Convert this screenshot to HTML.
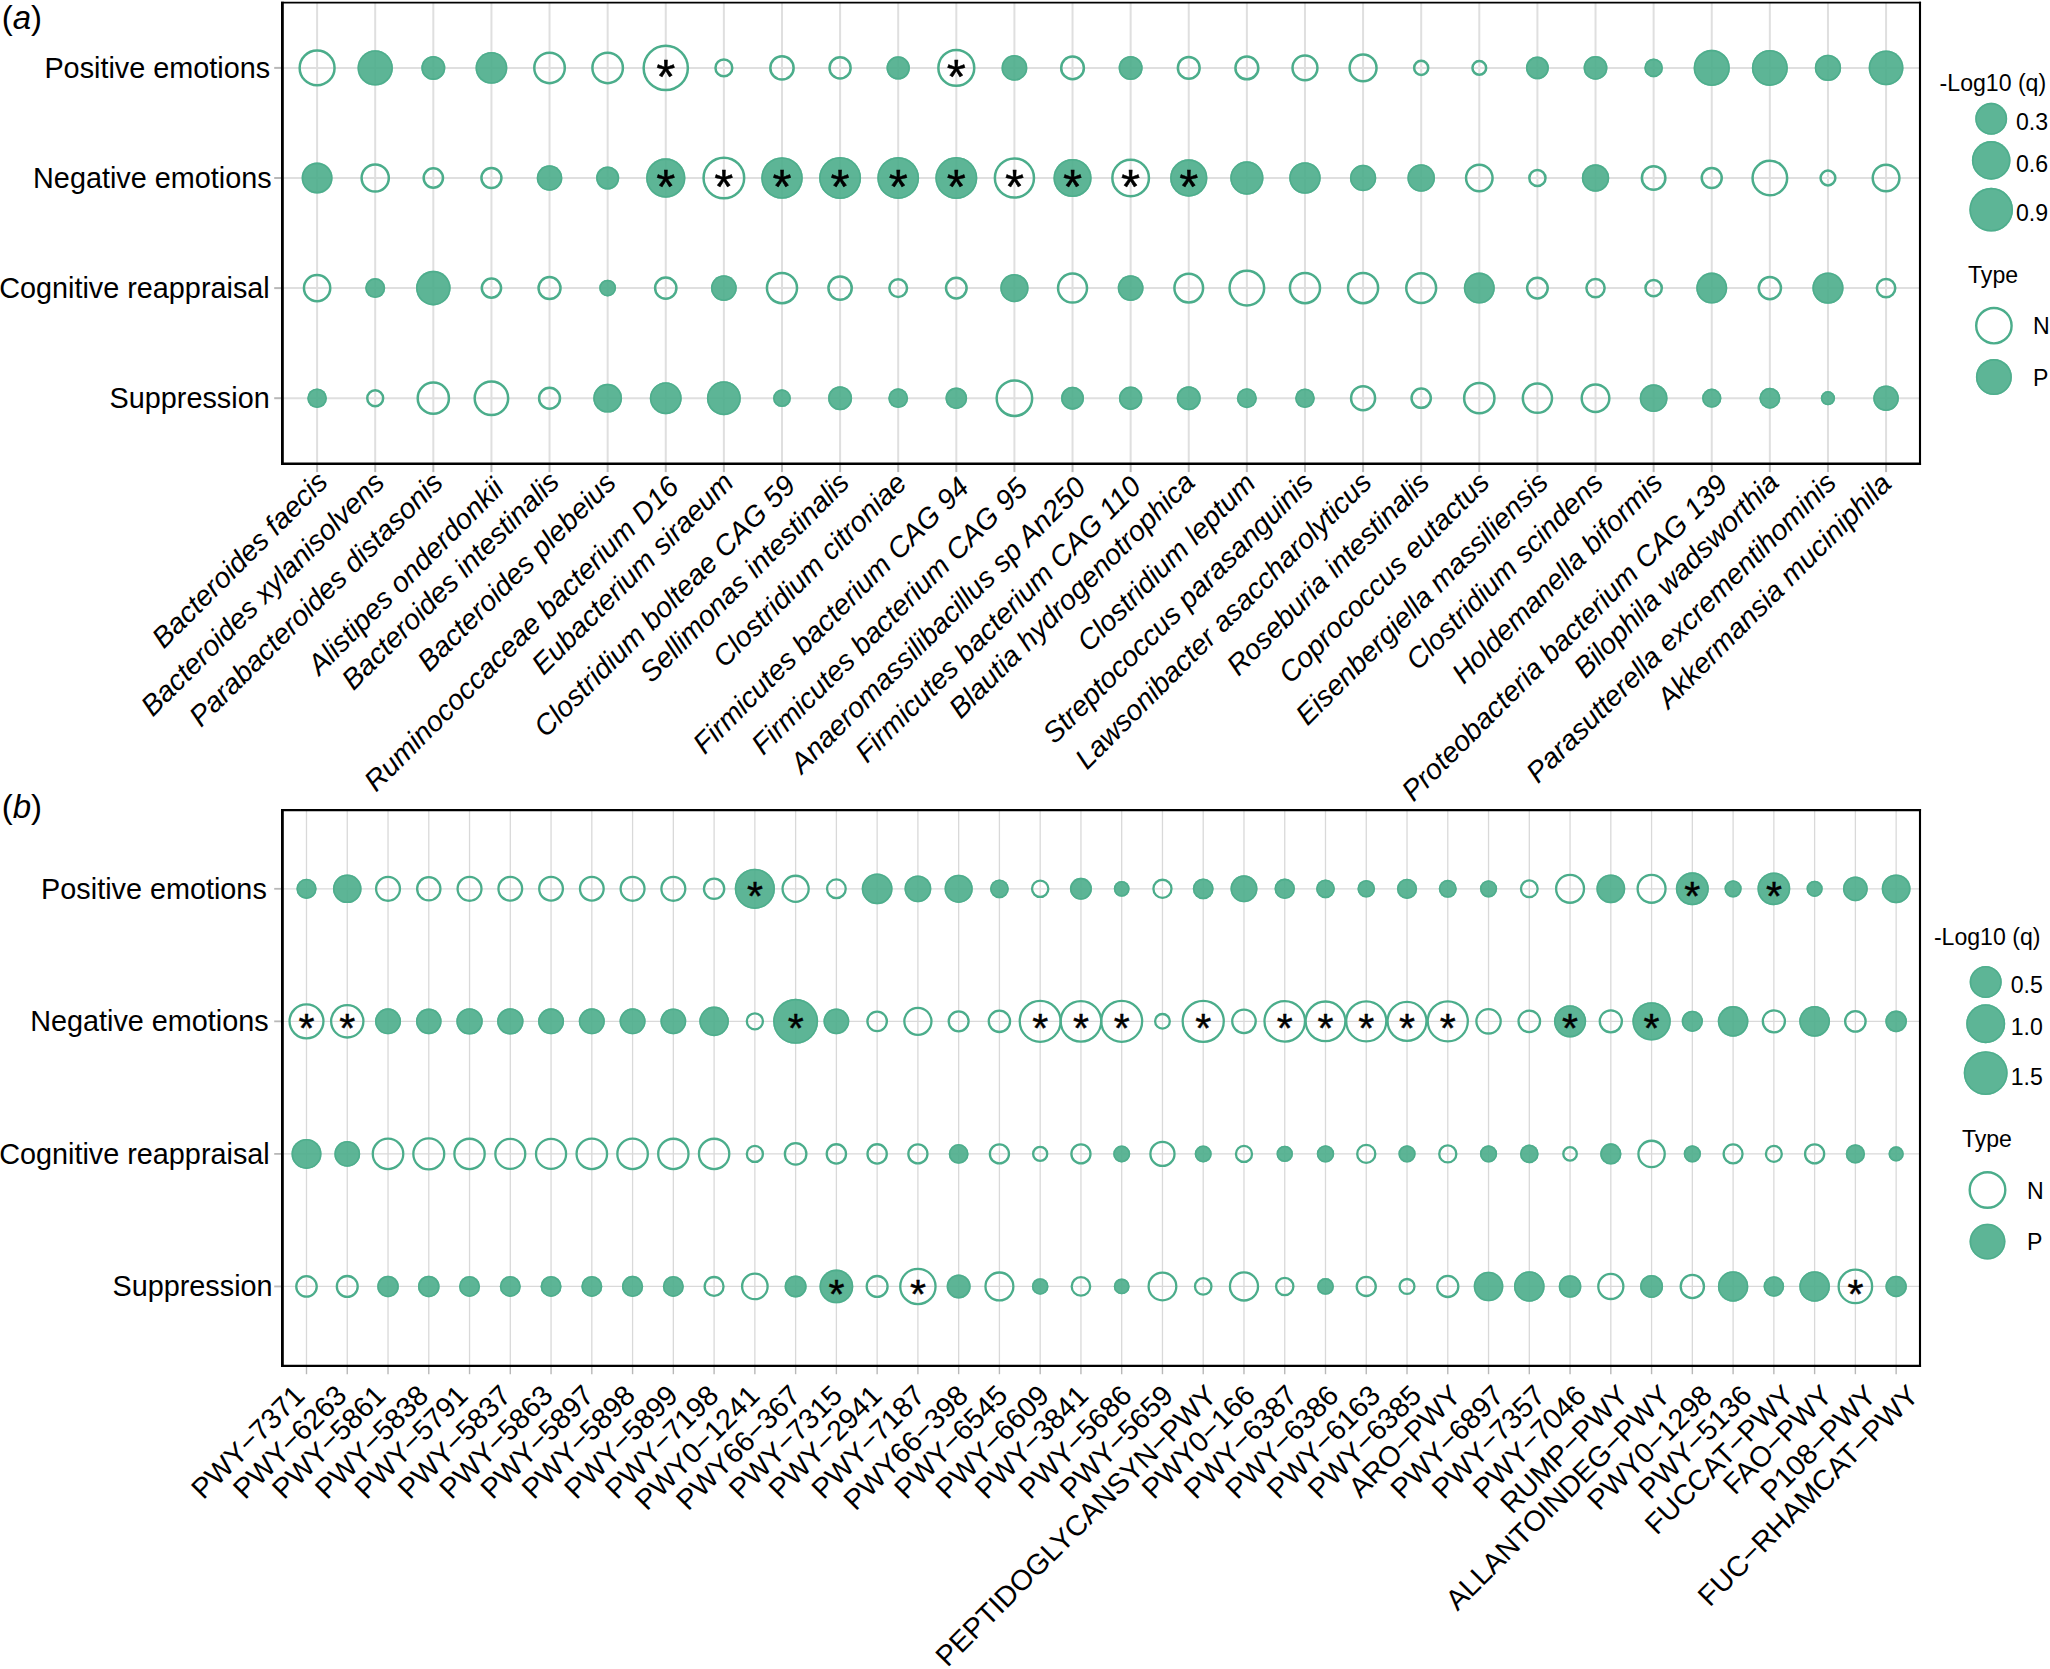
<!DOCTYPE html>
<html lang="en"><head><meta charset="utf-8"><title>Figure</title>
<style>html,body{margin:0;padding:0;background:#fff}svg{display:block}</style></head><body>
<svg width="2050" height="1669" viewBox="0 0 2050 1669">
<rect width="2050" height="1669" fill="#fff"/>
<g stroke="#dfdfdf" stroke-width="2" fill="none">
<line x1="282.4" y1="67.9" x2="1920" y2="67.9"/>
<line x1="282.4" y1="178" x2="1920" y2="178"/>
<line x1="282.4" y1="288.1" x2="1920" y2="288.1"/>
<line x1="282.4" y1="398.2" x2="1920" y2="398.2"/>
<line x1="317.1" y1="2.7" x2="317.1" y2="463.8"/>
<line x1="375.21" y1="2.7" x2="375.21" y2="463.8"/>
<line x1="433.32" y1="2.7" x2="433.32" y2="463.8"/>
<line x1="491.43" y1="2.7" x2="491.43" y2="463.8"/>
<line x1="549.54" y1="2.7" x2="549.54" y2="463.8"/>
<line x1="607.65" y1="2.7" x2="607.65" y2="463.8"/>
<line x1="665.76" y1="2.7" x2="665.76" y2="463.8"/>
<line x1="723.87" y1="2.7" x2="723.87" y2="463.8"/>
<line x1="781.98" y1="2.7" x2="781.98" y2="463.8"/>
<line x1="840.09" y1="2.7" x2="840.09" y2="463.8"/>
<line x1="898.2" y1="2.7" x2="898.2" y2="463.8"/>
<line x1="956.31" y1="2.7" x2="956.31" y2="463.8"/>
<line x1="1014.42" y1="2.7" x2="1014.42" y2="463.8"/>
<line x1="1072.53" y1="2.7" x2="1072.53" y2="463.8"/>
<line x1="1130.64" y1="2.7" x2="1130.64" y2="463.8"/>
<line x1="1188.75" y1="2.7" x2="1188.75" y2="463.8"/>
<line x1="1246.86" y1="2.7" x2="1246.86" y2="463.8"/>
<line x1="1304.97" y1="2.7" x2="1304.97" y2="463.8"/>
<line x1="1363.08" y1="2.7" x2="1363.08" y2="463.8"/>
<line x1="1421.19" y1="2.7" x2="1421.19" y2="463.8"/>
<line x1="1479.3" y1="2.7" x2="1479.3" y2="463.8"/>
<line x1="1537.41" y1="2.7" x2="1537.41" y2="463.8"/>
<line x1="1595.52" y1="2.7" x2="1595.52" y2="463.8"/>
<line x1="1653.63" y1="2.7" x2="1653.63" y2="463.8"/>
<line x1="1711.74" y1="2.7" x2="1711.74" y2="463.8"/>
<line x1="1769.85" y1="2.7" x2="1769.85" y2="463.8"/>
<line x1="1827.96" y1="2.7" x2="1827.96" y2="463.8"/>
<line x1="1886.07" y1="2.7" x2="1886.07" y2="463.8"/>
</g>
<g stroke="#b8b8b8" stroke-width="2" fill="none">
<line x1="274.2" y1="67.9" x2="281.2" y2="67.9"/>
<line x1="274.2" y1="178" x2="281.2" y2="178"/>
<line x1="274.2" y1="288.1" x2="281.2" y2="288.1"/>
<line x1="274.2" y1="398.2" x2="281.2" y2="398.2"/>
</g>
<g stroke="#b8b8b8" stroke-width="2" fill="none">
<line x1="317.1" y1="464.8" x2="317.1" y2="472.1"/>
<line x1="375.21" y1="464.8" x2="375.21" y2="472.1"/>
<line x1="433.32" y1="464.8" x2="433.32" y2="472.1"/>
<line x1="491.43" y1="464.8" x2="491.43" y2="472.1"/>
<line x1="549.54" y1="464.8" x2="549.54" y2="472.1"/>
<line x1="607.65" y1="464.8" x2="607.65" y2="472.1"/>
<line x1="665.76" y1="464.8" x2="665.76" y2="472.1"/>
<line x1="723.87" y1="464.8" x2="723.87" y2="472.1"/>
<line x1="781.98" y1="464.8" x2="781.98" y2="472.1"/>
<line x1="840.09" y1="464.8" x2="840.09" y2="472.1"/>
<line x1="898.2" y1="464.8" x2="898.2" y2="472.1"/>
<line x1="956.31" y1="464.8" x2="956.31" y2="472.1"/>
<line x1="1014.42" y1="464.8" x2="1014.42" y2="472.1"/>
<line x1="1072.53" y1="464.8" x2="1072.53" y2="472.1"/>
<line x1="1130.64" y1="464.8" x2="1130.64" y2="472.1"/>
<line x1="1188.75" y1="464.8" x2="1188.75" y2="472.1"/>
<line x1="1246.86" y1="464.8" x2="1246.86" y2="472.1"/>
<line x1="1304.97" y1="464.8" x2="1304.97" y2="472.1"/>
<line x1="1363.08" y1="464.8" x2="1363.08" y2="472.1"/>
<line x1="1421.19" y1="464.8" x2="1421.19" y2="472.1"/>
<line x1="1479.3" y1="464.8" x2="1479.3" y2="472.1"/>
<line x1="1537.41" y1="464.8" x2="1537.41" y2="472.1"/>
<line x1="1595.52" y1="464.8" x2="1595.52" y2="472.1"/>
<line x1="1653.63" y1="464.8" x2="1653.63" y2="472.1"/>
<line x1="1711.74" y1="464.8" x2="1711.74" y2="472.1"/>
<line x1="1769.85" y1="464.8" x2="1769.85" y2="472.1"/>
<line x1="1827.96" y1="464.8" x2="1827.96" y2="472.1"/>
<line x1="1886.07" y1="464.8" x2="1886.07" y2="472.1"/>
</g>
<g fill="#4bad8b" fill-opacity="0.9" stroke="none">
<circle cx="375.21" cy="67.9" r="17.7"/>
<circle cx="433.32" cy="67.9" r="12"/>
<circle cx="491.43" cy="67.9" r="15.9"/>
<circle cx="898.2" cy="67.9" r="11.7"/>
<circle cx="1014.42" cy="67.9" r="12.9"/>
<circle cx="1130.64" cy="67.9" r="12"/>
<circle cx="1537.41" cy="67.9" r="11.45"/>
<circle cx="1595.52" cy="67.9" r="11.9"/>
<circle cx="1653.63" cy="67.9" r="9.3"/>
<circle cx="1711.74" cy="67.9" r="18.1"/>
<circle cx="1769.85" cy="67.9" r="18"/>
<circle cx="1827.96" cy="67.9" r="13.15"/>
<circle cx="1886.07" cy="67.9" r="17.4"/>
<circle cx="317.1" cy="178" r="15.45"/>
<circle cx="549.54" cy="178" r="12.8"/>
<circle cx="607.65" cy="178" r="11.55"/>
<circle cx="665.76" cy="178" r="19.65"/>
<circle cx="781.98" cy="178" r="20.8"/>
<circle cx="840.09" cy="178" r="21"/>
<circle cx="898.2" cy="178" r="20.9"/>
<circle cx="956.31" cy="178" r="21"/>
<circle cx="1072.53" cy="178" r="19.1"/>
<circle cx="1188.75" cy="178" r="18.65"/>
<circle cx="1246.86" cy="178" r="16.65"/>
<circle cx="1304.97" cy="178" r="15.75"/>
<circle cx="1363.08" cy="178" r="13.15"/>
<circle cx="1421.19" cy="178" r="13.8"/>
<circle cx="1595.52" cy="178" r="13.7"/>
<circle cx="375.21" cy="288.1" r="10"/>
<circle cx="433.32" cy="288.1" r="17.3"/>
<circle cx="607.65" cy="288.1" r="8.45"/>
<circle cx="723.87" cy="288.1" r="12.9"/>
<circle cx="1014.42" cy="288.1" r="14.15"/>
<circle cx="1130.64" cy="288.1" r="12.9"/>
<circle cx="1479.3" cy="288.1" r="15.5"/>
<circle cx="1711.74" cy="288.1" r="15.5"/>
<circle cx="1827.96" cy="288.1" r="15.6"/>
<circle cx="317.1" cy="398.2" r="9.8"/>
<circle cx="607.65" cy="398.2" r="14.4"/>
<circle cx="665.76" cy="398.2" r="15.95"/>
<circle cx="723.87" cy="398.2" r="16.95"/>
<circle cx="781.98" cy="398.2" r="8.9"/>
<circle cx="840.09" cy="398.2" r="12"/>
<circle cx="898.2" cy="398.2" r="9.9"/>
<circle cx="956.31" cy="398.2" r="10.8"/>
<circle cx="1072.53" cy="398.2" r="11.45"/>
<circle cx="1130.64" cy="398.2" r="11.7"/>
<circle cx="1188.75" cy="398.2" r="12"/>
<circle cx="1246.86" cy="398.2" r="10"/>
<circle cx="1304.97" cy="398.2" r="9.8"/>
<circle cx="1653.63" cy="398.2" r="13.9"/>
<circle cx="1711.74" cy="398.2" r="9.65"/>
<circle cx="1769.85" cy="398.2" r="10.45"/>
<circle cx="1827.96" cy="398.2" r="7.1"/>
<circle cx="1886.07" cy="398.2" r="12.8"/>
</g>
<g fill="none" stroke="#4bad8b" stroke-opacity="0.8" stroke-width="1.6">
<circle cx="375.21" cy="67.9" r="16.9"/>
<circle cx="433.32" cy="67.9" r="11.2"/>
<circle cx="491.43" cy="67.9" r="15.1"/>
<circle cx="898.2" cy="67.9" r="10.9"/>
<circle cx="1014.42" cy="67.9" r="12.1"/>
<circle cx="1130.64" cy="67.9" r="11.2"/>
<circle cx="1537.41" cy="67.9" r="10.65"/>
<circle cx="1595.52" cy="67.9" r="11.1"/>
<circle cx="1653.63" cy="67.9" r="8.5"/>
<circle cx="1711.74" cy="67.9" r="17.3"/>
<circle cx="1769.85" cy="67.9" r="17.2"/>
<circle cx="1827.96" cy="67.9" r="12.35"/>
<circle cx="1886.07" cy="67.9" r="16.6"/>
<circle cx="317.1" cy="178" r="14.65"/>
<circle cx="549.54" cy="178" r="12"/>
<circle cx="607.65" cy="178" r="10.75"/>
<circle cx="665.76" cy="178" r="18.85"/>
<circle cx="781.98" cy="178" r="20"/>
<circle cx="840.09" cy="178" r="20.2"/>
<circle cx="898.2" cy="178" r="20.1"/>
<circle cx="956.31" cy="178" r="20.2"/>
<circle cx="1072.53" cy="178" r="18.3"/>
<circle cx="1188.75" cy="178" r="17.85"/>
<circle cx="1246.86" cy="178" r="15.85"/>
<circle cx="1304.97" cy="178" r="14.95"/>
<circle cx="1363.08" cy="178" r="12.35"/>
<circle cx="1421.19" cy="178" r="13"/>
<circle cx="1595.52" cy="178" r="12.9"/>
<circle cx="375.21" cy="288.1" r="9.2"/>
<circle cx="433.32" cy="288.1" r="16.5"/>
<circle cx="607.65" cy="288.1" r="7.65"/>
<circle cx="723.87" cy="288.1" r="12.1"/>
<circle cx="1014.42" cy="288.1" r="13.35"/>
<circle cx="1130.64" cy="288.1" r="12.1"/>
<circle cx="1479.3" cy="288.1" r="14.7"/>
<circle cx="1711.74" cy="288.1" r="14.7"/>
<circle cx="1827.96" cy="288.1" r="14.8"/>
<circle cx="317.1" cy="398.2" r="9"/>
<circle cx="607.65" cy="398.2" r="13.6"/>
<circle cx="665.76" cy="398.2" r="15.15"/>
<circle cx="723.87" cy="398.2" r="16.15"/>
<circle cx="781.98" cy="398.2" r="8.1"/>
<circle cx="840.09" cy="398.2" r="11.2"/>
<circle cx="898.2" cy="398.2" r="9.1"/>
<circle cx="956.31" cy="398.2" r="10"/>
<circle cx="1072.53" cy="398.2" r="10.65"/>
<circle cx="1130.64" cy="398.2" r="10.9"/>
<circle cx="1188.75" cy="398.2" r="11.2"/>
<circle cx="1246.86" cy="398.2" r="9.2"/>
<circle cx="1304.97" cy="398.2" r="9"/>
<circle cx="1653.63" cy="398.2" r="13.1"/>
<circle cx="1711.74" cy="398.2" r="8.85"/>
<circle cx="1769.85" cy="398.2" r="9.65"/>
<circle cx="1827.96" cy="398.2" r="6.3"/>
<circle cx="1886.07" cy="398.2" r="12"/>
</g>
<g fill="none" stroke="#4bad8b" stroke-width="2.5">
<circle cx="317.1" cy="67.9" r="17.45"/>
<circle cx="549.54" cy="67.9" r="15.25"/>
<circle cx="607.65" cy="67.9" r="15.25"/>
<circle cx="665.76" cy="67.9" r="22.1"/>
<circle cx="723.87" cy="67.9" r="8.4"/>
<circle cx="781.98" cy="67.9" r="11.65"/>
<circle cx="840.09" cy="67.9" r="10.55"/>
<circle cx="956.31" cy="67.9" r="17.95"/>
<circle cx="1072.53" cy="67.9" r="11.35"/>
<circle cx="1188.75" cy="67.9" r="10.9"/>
<circle cx="1246.86" cy="67.9" r="11.45"/>
<circle cx="1304.97" cy="67.9" r="12.45"/>
<circle cx="1363.08" cy="67.9" r="13.45"/>
<circle cx="1421.19" cy="67.9" r="7.05"/>
<circle cx="1479.3" cy="67.9" r="6.85"/>
<circle cx="375.21" cy="178" r="13.6"/>
<circle cx="433.32" cy="178" r="9.65"/>
<circle cx="491.43" cy="178" r="10"/>
<circle cx="723.87" cy="178" r="20.3"/>
<circle cx="1014.42" cy="178" r="19.55"/>
<circle cx="1130.64" cy="178" r="18.3"/>
<circle cx="1479.3" cy="178" r="13.25"/>
<circle cx="1537.41" cy="178" r="8.1"/>
<circle cx="1653.63" cy="178" r="11.75"/>
<circle cx="1711.74" cy="178" r="10"/>
<circle cx="1769.85" cy="178" r="17.3"/>
<circle cx="1827.96" cy="178" r="7.4"/>
<circle cx="1886.07" cy="178" r="13.35"/>
<circle cx="317.1" cy="288.1" r="13.15"/>
<circle cx="491.43" cy="288.1" r="9.65"/>
<circle cx="549.54" cy="288.1" r="11"/>
<circle cx="665.76" cy="288.1" r="10.65"/>
<circle cx="781.98" cy="288.1" r="15.05"/>
<circle cx="840.09" cy="288.1" r="11.65"/>
<circle cx="898.2" cy="288.1" r="8.85"/>
<circle cx="956.31" cy="288.1" r="10.3"/>
<circle cx="1072.53" cy="288.1" r="14.5"/>
<circle cx="1188.75" cy="288.1" r="14.35"/>
<circle cx="1246.86" cy="288.1" r="17.3"/>
<circle cx="1304.97" cy="288.1" r="15.05"/>
<circle cx="1363.08" cy="288.1" r="15.05"/>
<circle cx="1421.19" cy="288.1" r="14.95"/>
<circle cx="1537.41" cy="288.1" r="10.3"/>
<circle cx="1595.52" cy="288.1" r="9.1"/>
<circle cx="1653.63" cy="288.1" r="8.2"/>
<circle cx="1769.85" cy="288.1" r="11.1"/>
<circle cx="1886.07" cy="288.1" r="9.2"/>
<circle cx="375.21" cy="398.2" r="7.95"/>
<circle cx="433.32" cy="398.2" r="15.6"/>
<circle cx="491.43" cy="398.2" r="16.75"/>
<circle cx="549.54" cy="398.2" r="10.45"/>
<circle cx="1014.42" cy="398.2" r="17.75"/>
<circle cx="1363.08" cy="398.2" r="12"/>
<circle cx="1421.19" cy="398.2" r="9.65"/>
<circle cx="1479.3" cy="398.2" r="15.15"/>
<circle cx="1537.41" cy="398.2" r="14.6"/>
<circle cx="1595.52" cy="398.2" r="13.8"/>
</g>
<g font-family='"Liberation Sans", Arial, Helvetica, sans-serif' font-size="49" text-anchor="middle" fill="#000" stroke="#000" stroke-width="0.45">
<text x="665.76" y="92.7">*</text>
<text x="956.31" y="92.7">*</text>
<text x="665.76" y="202.8">*</text>
<text x="723.87" y="202.8">*</text>
<text x="781.98" y="202.8">*</text>
<text x="840.09" y="202.8">*</text>
<text x="898.2" y="202.8">*</text>
<text x="956.31" y="202.8">*</text>
<text x="1014.42" y="202.8">*</text>
<text x="1072.53" y="202.8">*</text>
<text x="1130.64" y="202.8">*</text>
<text x="1188.75" y="202.8">*</text>
</g>
<g stroke="#000" fill="none">
<line x1="281" y1="2.7" x2="1921.05" y2="2.7" stroke-width="1.7"/>
<line x1="1920" y1="1.85" x2="1920" y2="465.1" stroke-width="2.1"/>
<line x1="282.4" y1="1.85" x2="282.4" y2="465.1" stroke-width="2.8"/>
<line x1="281" y1="463.8" x2="1921.05" y2="463.8" stroke-width="2.6"/>
</g>
<g font-family='"Liberation Sans", Arial, Helvetica, sans-serif' font-size="28.8" text-anchor="end" fill="#000">
<text x="270.1" y="77.7">Positive emotions</text>
<text x="271.6" y="187.8">Negative emotions</text>
<text x="269.7" y="297.9">Cognitive reappraisal</text>
<text x="269.7" y="408">Suppression</text>
</g>
<g font-family='"Liberation Sans", Arial, Helvetica, sans-serif' font-size="28.7" font-style="italic" text-anchor="end" fill="#000">
<text transform="translate(329.5 483.7) rotate(-45)">Bacteroides faecis</text>
<text transform="translate(386.11 484.1) rotate(-45)">Bacteroides xylanisolvens</text>
<text transform="translate(444.62 484.4) rotate(-45)">Parabacteroides distasonis</text>
<text transform="translate(505.53 490.2) rotate(-45)">Alistipes onderdonkii</text>
<text transform="translate(560.94 483.7) rotate(-45)">Bacteroides intestinalis</text>
<text transform="translate(617.65 484.4) rotate(-45)">Bacteroides plebeius</text>
<text transform="translate(680.46 488.4) rotate(-45)">Ruminococcaceae bacterium D16</text>
<text transform="translate(735.17 484.4) rotate(-45)">Eubacterium siraeum</text>
<text transform="translate(797.18 487.1) rotate(-45)">Clostridium bolteae CAG 59</text>
<text transform="translate(850.99 484.4) rotate(-45)">Sellimonas intestinalis</text>
<text transform="translate(908.2 485) rotate(-45)">Clostridium citroniae</text>
<text transform="translate(970.81 489.1) rotate(-45)">Firmicutes bacterium CAG 94</text>
<text transform="translate(1029.32 490) rotate(-45)">Firmicutes bacterium CAG 95</text>
<text transform="translate(1087.63 489) rotate(-45)">Anaeromassilibacillus sp An250</text>
<text transform="translate(1142.74 488.1) rotate(-45)">Firmicutes bacterium CAG 110</text>
<text transform="translate(1196.45 484.1) rotate(-45)">Blautia hydrogenotrophica</text>
<text transform="translate(1257.06 485) rotate(-45)">Clostridium leptum</text>
<text transform="translate(1314.97 484.4) rotate(-45)">Streptococcus parasanguinis</text>
<text transform="translate(1373.28 484.1) rotate(-45)">Lawsonibacter asaccharolyticus</text>
<text transform="translate(1431.19 484.1) rotate(-45)">Roseburia intestinalis</text>
<text transform="translate(1491.1 484.1) rotate(-45)">Coprococcus eutactus</text>
<text transform="translate(1549.91 484.1) rotate(-45)">Eisenbergiella massiliensis</text>
<text transform="translate(1604.82 484.4) rotate(-45)">Clostridium scindens</text>
<text transform="translate(1664.33 484.4) rotate(-45)">Holdemanella biformis</text>
<text transform="translate(1729.24 486.7) rotate(-45)">Proteobacteria bacterium CAG 139</text>
<text transform="translate(1780.55 484.1) rotate(-45)">Bilophila wadsworthia</text>
<text transform="translate(1837.96 484.4) rotate(-45)">Parasutterella excrementihominis</text>
<text transform="translate(1893.07 485.5) rotate(-45)">Akkermansia muciniphila</text>
</g>
<g stroke="#d9d9d9" stroke-width="1.3" fill="none">
<line x1="282.4" y1="888.8" x2="1920" y2="888.8"/>
<line x1="282.4" y1="1021.35" x2="1920" y2="1021.35"/>
<line x1="282.4" y1="1153.9" x2="1920" y2="1153.9"/>
<line x1="282.4" y1="1286.45" x2="1920" y2="1286.45"/>
<line x1="306.5" y1="810.1" x2="306.5" y2="1365.9"/>
<line x1="347.26" y1="810.1" x2="347.26" y2="1365.9"/>
<line x1="388.02" y1="810.1" x2="388.02" y2="1365.9"/>
<line x1="428.78" y1="810.1" x2="428.78" y2="1365.9"/>
<line x1="469.54" y1="810.1" x2="469.54" y2="1365.9"/>
<line x1="510.3" y1="810.1" x2="510.3" y2="1365.9"/>
<line x1="551.06" y1="810.1" x2="551.06" y2="1365.9"/>
<line x1="591.82" y1="810.1" x2="591.82" y2="1365.9"/>
<line x1="632.58" y1="810.1" x2="632.58" y2="1365.9"/>
<line x1="673.34" y1="810.1" x2="673.34" y2="1365.9"/>
<line x1="714.1" y1="810.1" x2="714.1" y2="1365.9"/>
<line x1="754.86" y1="810.1" x2="754.86" y2="1365.9"/>
<line x1="795.62" y1="810.1" x2="795.62" y2="1365.9"/>
<line x1="836.38" y1="810.1" x2="836.38" y2="1365.9"/>
<line x1="877.14" y1="810.1" x2="877.14" y2="1365.9"/>
<line x1="917.9" y1="810.1" x2="917.9" y2="1365.9"/>
<line x1="958.66" y1="810.1" x2="958.66" y2="1365.9"/>
<line x1="999.42" y1="810.1" x2="999.42" y2="1365.9"/>
<line x1="1040.18" y1="810.1" x2="1040.18" y2="1365.9"/>
<line x1="1080.94" y1="810.1" x2="1080.94" y2="1365.9"/>
<line x1="1121.7" y1="810.1" x2="1121.7" y2="1365.9"/>
<line x1="1162.46" y1="810.1" x2="1162.46" y2="1365.9"/>
<line x1="1203.22" y1="810.1" x2="1203.22" y2="1365.9"/>
<line x1="1243.98" y1="810.1" x2="1243.98" y2="1365.9"/>
<line x1="1284.74" y1="810.1" x2="1284.74" y2="1365.9"/>
<line x1="1325.5" y1="810.1" x2="1325.5" y2="1365.9"/>
<line x1="1366.26" y1="810.1" x2="1366.26" y2="1365.9"/>
<line x1="1407.02" y1="810.1" x2="1407.02" y2="1365.9"/>
<line x1="1447.78" y1="810.1" x2="1447.78" y2="1365.9"/>
<line x1="1488.54" y1="810.1" x2="1488.54" y2="1365.9"/>
<line x1="1529.3" y1="810.1" x2="1529.3" y2="1365.9"/>
<line x1="1570.06" y1="810.1" x2="1570.06" y2="1365.9"/>
<line x1="1610.82" y1="810.1" x2="1610.82" y2="1365.9"/>
<line x1="1651.58" y1="810.1" x2="1651.58" y2="1365.9"/>
<line x1="1692.34" y1="810.1" x2="1692.34" y2="1365.9"/>
<line x1="1733.1" y1="810.1" x2="1733.1" y2="1365.9"/>
<line x1="1773.86" y1="810.1" x2="1773.86" y2="1365.9"/>
<line x1="1814.62" y1="810.1" x2="1814.62" y2="1365.9"/>
<line x1="1855.38" y1="810.1" x2="1855.38" y2="1365.9"/>
<line x1="1896.14" y1="810.1" x2="1896.14" y2="1365.9"/>
</g>
<g stroke="#b8b8b8" stroke-width="1.8" fill="none">
<line x1="274.2" y1="888.8" x2="281.2" y2="888.8"/>
<line x1="274.2" y1="1021.35" x2="281.2" y2="1021.35"/>
<line x1="274.2" y1="1153.9" x2="281.2" y2="1153.9"/>
<line x1="274.2" y1="1286.45" x2="281.2" y2="1286.45"/>
</g>
<g stroke="#b8b8b8" stroke-width="1.4" fill="none">
<line x1="306.5" y1="1366.9" x2="306.5" y2="1374.2"/>
<line x1="347.26" y1="1366.9" x2="347.26" y2="1374.2"/>
<line x1="388.02" y1="1366.9" x2="388.02" y2="1374.2"/>
<line x1="428.78" y1="1366.9" x2="428.78" y2="1374.2"/>
<line x1="469.54" y1="1366.9" x2="469.54" y2="1374.2"/>
<line x1="510.3" y1="1366.9" x2="510.3" y2="1374.2"/>
<line x1="551.06" y1="1366.9" x2="551.06" y2="1374.2"/>
<line x1="591.82" y1="1366.9" x2="591.82" y2="1374.2"/>
<line x1="632.58" y1="1366.9" x2="632.58" y2="1374.2"/>
<line x1="673.34" y1="1366.9" x2="673.34" y2="1374.2"/>
<line x1="714.1" y1="1366.9" x2="714.1" y2="1374.2"/>
<line x1="754.86" y1="1366.9" x2="754.86" y2="1374.2"/>
<line x1="795.62" y1="1366.9" x2="795.62" y2="1374.2"/>
<line x1="836.38" y1="1366.9" x2="836.38" y2="1374.2"/>
<line x1="877.14" y1="1366.9" x2="877.14" y2="1374.2"/>
<line x1="917.9" y1="1366.9" x2="917.9" y2="1374.2"/>
<line x1="958.66" y1="1366.9" x2="958.66" y2="1374.2"/>
<line x1="999.42" y1="1366.9" x2="999.42" y2="1374.2"/>
<line x1="1040.18" y1="1366.9" x2="1040.18" y2="1374.2"/>
<line x1="1080.94" y1="1366.9" x2="1080.94" y2="1374.2"/>
<line x1="1121.7" y1="1366.9" x2="1121.7" y2="1374.2"/>
<line x1="1162.46" y1="1366.9" x2="1162.46" y2="1374.2"/>
<line x1="1203.22" y1="1366.9" x2="1203.22" y2="1374.2"/>
<line x1="1243.98" y1="1366.9" x2="1243.98" y2="1374.2"/>
<line x1="1284.74" y1="1366.9" x2="1284.74" y2="1374.2"/>
<line x1="1325.5" y1="1366.9" x2="1325.5" y2="1374.2"/>
<line x1="1366.26" y1="1366.9" x2="1366.26" y2="1374.2"/>
<line x1="1407.02" y1="1366.9" x2="1407.02" y2="1374.2"/>
<line x1="1447.78" y1="1366.9" x2="1447.78" y2="1374.2"/>
<line x1="1488.54" y1="1366.9" x2="1488.54" y2="1374.2"/>
<line x1="1529.3" y1="1366.9" x2="1529.3" y2="1374.2"/>
<line x1="1570.06" y1="1366.9" x2="1570.06" y2="1374.2"/>
<line x1="1610.82" y1="1366.9" x2="1610.82" y2="1374.2"/>
<line x1="1651.58" y1="1366.9" x2="1651.58" y2="1374.2"/>
<line x1="1692.34" y1="1366.9" x2="1692.34" y2="1374.2"/>
<line x1="1733.1" y1="1366.9" x2="1733.1" y2="1374.2"/>
<line x1="1773.86" y1="1366.9" x2="1773.86" y2="1374.2"/>
<line x1="1814.62" y1="1366.9" x2="1814.62" y2="1374.2"/>
<line x1="1855.38" y1="1366.9" x2="1855.38" y2="1374.2"/>
<line x1="1896.14" y1="1366.9" x2="1896.14" y2="1374.2"/>
</g>
<g fill="#4bad8b" fill-opacity="0.9" stroke="none">
<circle cx="306.5" cy="888.8" r="10.1"/>
<circle cx="347.26" cy="888.8" r="14.3"/>
<circle cx="754.86" cy="888.8" r="20.1"/>
<circle cx="877.14" cy="888.8" r="15.4"/>
<circle cx="917.9" cy="888.8" r="13.4"/>
<circle cx="958.66" cy="888.8" r="14.1"/>
<circle cx="999.42" cy="888.8" r="9.4"/>
<circle cx="1080.94" cy="888.8" r="11"/>
<circle cx="1121.7" cy="888.8" r="7.9"/>
<circle cx="1203.22" cy="888.8" r="10.4"/>
<circle cx="1243.98" cy="888.8" r="13.5"/>
<circle cx="1284.74" cy="888.8" r="10.2"/>
<circle cx="1325.5" cy="888.8" r="9.4"/>
<circle cx="1366.26" cy="888.8" r="8.8"/>
<circle cx="1407.02" cy="888.8" r="10.1"/>
<circle cx="1447.78" cy="888.8" r="9"/>
<circle cx="1488.54" cy="888.8" r="8.6"/>
<circle cx="1610.82" cy="888.8" r="14.4"/>
<circle cx="1692.34" cy="888.8" r="16.5"/>
<circle cx="1733.1" cy="888.8" r="8.6"/>
<circle cx="1773.86" cy="888.8" r="16.4"/>
<circle cx="1814.62" cy="888.8" r="8.1"/>
<circle cx="1855.38" cy="888.8" r="12.4"/>
<circle cx="1896.14" cy="888.8" r="14.4"/>
<circle cx="388.02" cy="1021.35" r="13"/>
<circle cx="428.78" cy="1021.35" r="12.8"/>
<circle cx="469.54" cy="1021.35" r="13.2"/>
<circle cx="510.3" cy="1021.35" r="13.2"/>
<circle cx="551.06" cy="1021.35" r="13"/>
<circle cx="591.82" cy="1021.35" r="13"/>
<circle cx="632.58" cy="1021.35" r="13"/>
<circle cx="673.34" cy="1021.35" r="12.9"/>
<circle cx="714.1" cy="1021.35" r="14.8"/>
<circle cx="795.62" cy="1021.35" r="22.5"/>
<circle cx="836.38" cy="1021.35" r="12.9"/>
<circle cx="1570.06" cy="1021.35" r="16.1"/>
<circle cx="1651.58" cy="1021.35" r="19.2"/>
<circle cx="1692.34" cy="1021.35" r="10.6"/>
<circle cx="1733.1" cy="1021.35" r="15.3"/>
<circle cx="1814.62" cy="1021.35" r="15.4"/>
<circle cx="1896.14" cy="1021.35" r="10.8"/>
<circle cx="306.5" cy="1153.9" r="15"/>
<circle cx="347.26" cy="1153.9" r="12.9"/>
<circle cx="958.66" cy="1153.9" r="9.9"/>
<circle cx="1121.7" cy="1153.9" r="8.5"/>
<circle cx="1203.22" cy="1153.9" r="8.5"/>
<circle cx="1284.74" cy="1153.9" r="8.2"/>
<circle cx="1325.5" cy="1153.9" r="8.7"/>
<circle cx="1407.02" cy="1153.9" r="8.6"/>
<circle cx="1488.54" cy="1153.9" r="8.6"/>
<circle cx="1529.3" cy="1153.9" r="9.3"/>
<circle cx="1610.82" cy="1153.9" r="10.6"/>
<circle cx="1692.34" cy="1153.9" r="8.6"/>
<circle cx="1855.38" cy="1153.9" r="9.6"/>
<circle cx="1896.14" cy="1153.9" r="7.6"/>
<circle cx="388.02" cy="1286.45" r="10.8"/>
<circle cx="428.78" cy="1286.45" r="10.8"/>
<circle cx="469.54" cy="1286.45" r="10.5"/>
<circle cx="510.3" cy="1286.45" r="10.5"/>
<circle cx="551.06" cy="1286.45" r="10.5"/>
<circle cx="591.82" cy="1286.45" r="10.5"/>
<circle cx="632.58" cy="1286.45" r="10.6"/>
<circle cx="673.34" cy="1286.45" r="10.5"/>
<circle cx="795.62" cy="1286.45" r="11"/>
<circle cx="836.38" cy="1286.45" r="16.9"/>
<circle cx="958.66" cy="1286.45" r="12"/>
<circle cx="1040.18" cy="1286.45" r="8.3"/>
<circle cx="1121.7" cy="1286.45" r="7.9"/>
<circle cx="1325.5" cy="1286.45" r="8.4"/>
<circle cx="1488.54" cy="1286.45" r="14.8"/>
<circle cx="1529.3" cy="1286.45" r="15.3"/>
<circle cx="1570.06" cy="1286.45" r="11.3"/>
<circle cx="1651.58" cy="1286.45" r="11.5"/>
<circle cx="1733.1" cy="1286.45" r="15.2"/>
<circle cx="1773.86" cy="1286.45" r="10.3"/>
<circle cx="1814.62" cy="1286.45" r="15.3"/>
<circle cx="1896.14" cy="1286.45" r="10.7"/>
</g>
<g fill="none" stroke="#4bad8b" stroke-opacity="0.8" stroke-width="1.6">
<circle cx="306.5" cy="888.8" r="9.3"/>
<circle cx="347.26" cy="888.8" r="13.5"/>
<circle cx="754.86" cy="888.8" r="19.3"/>
<circle cx="877.14" cy="888.8" r="14.6"/>
<circle cx="917.9" cy="888.8" r="12.6"/>
<circle cx="958.66" cy="888.8" r="13.3"/>
<circle cx="999.42" cy="888.8" r="8.6"/>
<circle cx="1080.94" cy="888.8" r="10.2"/>
<circle cx="1121.7" cy="888.8" r="7.1"/>
<circle cx="1203.22" cy="888.8" r="9.6"/>
<circle cx="1243.98" cy="888.8" r="12.7"/>
<circle cx="1284.74" cy="888.8" r="9.4"/>
<circle cx="1325.5" cy="888.8" r="8.6"/>
<circle cx="1366.26" cy="888.8" r="8"/>
<circle cx="1407.02" cy="888.8" r="9.3"/>
<circle cx="1447.78" cy="888.8" r="8.2"/>
<circle cx="1488.54" cy="888.8" r="7.8"/>
<circle cx="1610.82" cy="888.8" r="13.6"/>
<circle cx="1692.34" cy="888.8" r="15.7"/>
<circle cx="1733.1" cy="888.8" r="7.8"/>
<circle cx="1773.86" cy="888.8" r="15.6"/>
<circle cx="1814.62" cy="888.8" r="7.3"/>
<circle cx="1855.38" cy="888.8" r="11.6"/>
<circle cx="1896.14" cy="888.8" r="13.6"/>
<circle cx="388.02" cy="1021.35" r="12.2"/>
<circle cx="428.78" cy="1021.35" r="12"/>
<circle cx="469.54" cy="1021.35" r="12.4"/>
<circle cx="510.3" cy="1021.35" r="12.4"/>
<circle cx="551.06" cy="1021.35" r="12.2"/>
<circle cx="591.82" cy="1021.35" r="12.2"/>
<circle cx="632.58" cy="1021.35" r="12.2"/>
<circle cx="673.34" cy="1021.35" r="12.1"/>
<circle cx="714.1" cy="1021.35" r="14"/>
<circle cx="795.62" cy="1021.35" r="21.7"/>
<circle cx="836.38" cy="1021.35" r="12.1"/>
<circle cx="1570.06" cy="1021.35" r="15.3"/>
<circle cx="1651.58" cy="1021.35" r="18.4"/>
<circle cx="1692.34" cy="1021.35" r="9.8"/>
<circle cx="1733.1" cy="1021.35" r="14.5"/>
<circle cx="1814.62" cy="1021.35" r="14.6"/>
<circle cx="1896.14" cy="1021.35" r="10"/>
<circle cx="306.5" cy="1153.9" r="14.2"/>
<circle cx="347.26" cy="1153.9" r="12.1"/>
<circle cx="958.66" cy="1153.9" r="9.1"/>
<circle cx="1121.7" cy="1153.9" r="7.7"/>
<circle cx="1203.22" cy="1153.9" r="7.7"/>
<circle cx="1284.74" cy="1153.9" r="7.4"/>
<circle cx="1325.5" cy="1153.9" r="7.9"/>
<circle cx="1407.02" cy="1153.9" r="7.8"/>
<circle cx="1488.54" cy="1153.9" r="7.8"/>
<circle cx="1529.3" cy="1153.9" r="8.5"/>
<circle cx="1610.82" cy="1153.9" r="9.8"/>
<circle cx="1692.34" cy="1153.9" r="7.8"/>
<circle cx="1855.38" cy="1153.9" r="8.8"/>
<circle cx="1896.14" cy="1153.9" r="6.8"/>
<circle cx="388.02" cy="1286.45" r="10"/>
<circle cx="428.78" cy="1286.45" r="10"/>
<circle cx="469.54" cy="1286.45" r="9.7"/>
<circle cx="510.3" cy="1286.45" r="9.7"/>
<circle cx="551.06" cy="1286.45" r="9.7"/>
<circle cx="591.82" cy="1286.45" r="9.7"/>
<circle cx="632.58" cy="1286.45" r="9.8"/>
<circle cx="673.34" cy="1286.45" r="9.7"/>
<circle cx="795.62" cy="1286.45" r="10.2"/>
<circle cx="836.38" cy="1286.45" r="16.1"/>
<circle cx="958.66" cy="1286.45" r="11.2"/>
<circle cx="1040.18" cy="1286.45" r="7.5"/>
<circle cx="1121.7" cy="1286.45" r="7.1"/>
<circle cx="1325.5" cy="1286.45" r="7.6"/>
<circle cx="1488.54" cy="1286.45" r="14"/>
<circle cx="1529.3" cy="1286.45" r="14.5"/>
<circle cx="1570.06" cy="1286.45" r="10.5"/>
<circle cx="1651.58" cy="1286.45" r="10.7"/>
<circle cx="1733.1" cy="1286.45" r="14.4"/>
<circle cx="1773.86" cy="1286.45" r="9.5"/>
<circle cx="1814.62" cy="1286.45" r="14.5"/>
<circle cx="1896.14" cy="1286.45" r="9.9"/>
</g>
<g fill="none" stroke="#4bad8b" stroke-width="2.3">
<circle cx="388.02" cy="888.8" r="11.95"/>
<circle cx="428.78" cy="888.8" r="11.65"/>
<circle cx="469.54" cy="888.8" r="11.95"/>
<circle cx="510.3" cy="888.8" r="11.85"/>
<circle cx="551.06" cy="888.8" r="11.85"/>
<circle cx="591.82" cy="888.8" r="11.85"/>
<circle cx="632.58" cy="888.8" r="11.95"/>
<circle cx="673.34" cy="888.8" r="11.95"/>
<circle cx="714.1" cy="888.8" r="10.15"/>
<circle cx="795.62" cy="888.8" r="13.05"/>
<circle cx="836.38" cy="888.8" r="9.35"/>
<circle cx="1040.18" cy="888.8" r="8.15"/>
<circle cx="1162.46" cy="888.8" r="9.05"/>
<circle cx="1529.3" cy="888.8" r="8.35"/>
<circle cx="1570.06" cy="888.8" r="13.95"/>
<circle cx="1651.58" cy="888.8" r="13.95"/>
<circle cx="306.5" cy="1021.35" r="16.95"/>
<circle cx="347.26" cy="1021.35" r="16.15"/>
<circle cx="754.86" cy="1021.35" r="8.05"/>
<circle cx="877.14" cy="1021.35" r="9.75"/>
<circle cx="917.9" cy="1021.35" r="13.55"/>
<circle cx="958.66" cy="1021.35" r="9.95"/>
<circle cx="999.42" cy="1021.35" r="10.65"/>
<circle cx="1040.18" cy="1021.35" r="20.45"/>
<circle cx="1080.94" cy="1021.35" r="20.25"/>
<circle cx="1121.7" cy="1021.35" r="20.45"/>
<circle cx="1162.46" cy="1021.35" r="7.35"/>
<circle cx="1203.22" cy="1021.35" r="20.55"/>
<circle cx="1243.98" cy="1021.35" r="11.75"/>
<circle cx="1284.74" cy="1021.35" r="20.25"/>
<circle cx="1325.5" cy="1021.35" r="19.85"/>
<circle cx="1366.26" cy="1021.35" r="20.05"/>
<circle cx="1407.02" cy="1021.35" r="19.45"/>
<circle cx="1447.78" cy="1021.35" r="20.05"/>
<circle cx="1488.54" cy="1021.35" r="12.15"/>
<circle cx="1529.3" cy="1021.35" r="10.75"/>
<circle cx="1610.82" cy="1021.35" r="11.05"/>
<circle cx="1773.86" cy="1021.35" r="11.05"/>
<circle cx="1855.38" cy="1021.35" r="10.25"/>
<circle cx="388.02" cy="1153.9" r="15.25"/>
<circle cx="428.78" cy="1153.9" r="15.45"/>
<circle cx="469.54" cy="1153.9" r="15.15"/>
<circle cx="510.3" cy="1153.9" r="14.95"/>
<circle cx="551.06" cy="1153.9" r="15.05"/>
<circle cx="591.82" cy="1153.9" r="15.25"/>
<circle cx="632.58" cy="1153.9" r="15.25"/>
<circle cx="673.34" cy="1153.9" r="15.15"/>
<circle cx="714.1" cy="1153.9" r="15.15"/>
<circle cx="754.86" cy="1153.9" r="8.05"/>
<circle cx="795.62" cy="1153.9" r="10.75"/>
<circle cx="836.38" cy="1153.9" r="9.65"/>
<circle cx="877.14" cy="1153.9" r="9.65"/>
<circle cx="917.9" cy="1153.9" r="9.55"/>
<circle cx="999.42" cy="1153.9" r="9.55"/>
<circle cx="1040.18" cy="1153.9" r="7.05"/>
<circle cx="1080.94" cy="1153.9" r="9.55"/>
<circle cx="1162.46" cy="1153.9" r="12.05"/>
<circle cx="1243.98" cy="1153.9" r="8.05"/>
<circle cx="1366.26" cy="1153.9" r="9.05"/>
<circle cx="1447.78" cy="1153.9" r="8.55"/>
<circle cx="1570.06" cy="1153.9" r="6.75"/>
<circle cx="1651.58" cy="1153.9" r="13.15"/>
<circle cx="1733.1" cy="1153.9" r="9.45"/>
<circle cx="1773.86" cy="1153.9" r="7.95"/>
<circle cx="1814.62" cy="1153.9" r="9.55"/>
<circle cx="306.5" cy="1286.45" r="10.25"/>
<circle cx="347.26" cy="1286.45" r="10.45"/>
<circle cx="714.1" cy="1286.45" r="9.45"/>
<circle cx="754.86" cy="1286.45" r="12.75"/>
<circle cx="877.14" cy="1286.45" r="10.45"/>
<circle cx="917.9" cy="1286.45" r="17.65"/>
<circle cx="999.42" cy="1286.45" r="13.95"/>
<circle cx="1080.94" cy="1286.45" r="9.25"/>
<circle cx="1162.46" cy="1286.45" r="13.85"/>
<circle cx="1203.22" cy="1286.45" r="8.25"/>
<circle cx="1243.98" cy="1286.45" r="14.05"/>
<circle cx="1284.74" cy="1286.45" r="8.65"/>
<circle cx="1366.26" cy="1286.45" r="9.55"/>
<circle cx="1407.02" cy="1286.45" r="7.45"/>
<circle cx="1447.78" cy="1286.45" r="10.55"/>
<circle cx="1610.82" cy="1286.45" r="12.55"/>
<circle cx="1692.34" cy="1286.45" r="11.65"/>
<circle cx="1855.38" cy="1286.45" r="16.75"/>
</g>
<g font-family='"Liberation Sans", Arial, Helvetica, sans-serif' font-size="41" text-anchor="middle" fill="#000" stroke="#000" stroke-width="0.45">
<text x="754.86" y="909.9">*</text>
<text x="1692.34" y="909.9">*</text>
<text x="1773.86" y="909.9">*</text>
<text x="306.5" y="1042.45">*</text>
<text x="347.26" y="1042.45">*</text>
<text x="795.62" y="1042.45">*</text>
<text x="1040.18" y="1042.45">*</text>
<text x="1080.94" y="1042.45">*</text>
<text x="1121.7" y="1042.45">*</text>
<text x="1203.22" y="1042.45">*</text>
<text x="1284.74" y="1042.45">*</text>
<text x="1325.5" y="1042.45">*</text>
<text x="1366.26" y="1042.45">*</text>
<text x="1407.02" y="1042.45">*</text>
<text x="1447.78" y="1042.45">*</text>
<text x="1570.06" y="1042.45">*</text>
<text x="1651.58" y="1042.45">*</text>
<text x="836.38" y="1307.55">*</text>
<text x="917.9" y="1307.55">*</text>
<text x="1855.38" y="1307.55">*</text>
</g>
<g stroke="#000" fill="none">
<line x1="281" y1="810.1" x2="1921.05" y2="810.1" stroke-width="2.1"/>
<line x1="1920" y1="809.05" x2="1920" y2="1366.95" stroke-width="2.1"/>
<line x1="282.4" y1="809.05" x2="282.4" y2="1366.95" stroke-width="2.8"/>
<line x1="281" y1="1365.9" x2="1921.05" y2="1365.9" stroke-width="2.1"/>
</g>
<g font-family='"Liberation Sans", Arial, Helvetica, sans-serif' font-size="28.8" text-anchor="end" fill="#000">
<text x="266.8" y="898.7">Positive emotions</text>
<text x="268.7" y="1031.25">Negative emotions</text>
<text x="269.7" y="1163.8">Cognitive reappraisal</text>
<text x="272.6" y="1296.35">Suppression</text>
</g>
<g font-family='"Liberation Sans", Arial, Helvetica, sans-serif' font-size="28.7" text-anchor="end" fill="#000">
<text transform="translate(306.39 1397.3) rotate(-45)">PWY−7371</text>
<text transform="translate(348.24 1397.3) rotate(-45)">PWY−6263</text>
<text transform="translate(387.29 1397.3) rotate(-45)">PWY−5861</text>
<text transform="translate(430.12 1397.3) rotate(-45)">PWY−5838</text>
<text transform="translate(469.65 1397.3) rotate(-45)">PWY−5791</text>
<text transform="translate(512.9 1397.3) rotate(-45)">PWY−5837</text>
<text transform="translate(554.54 1397.3) rotate(-45)">PWY−5863</text>
<text transform="translate(595.62 1397.3) rotate(-45)">PWY−5897</text>
<text transform="translate(636.9 1397.3) rotate(-45)">PWY−5898</text>
<text transform="translate(679.45 1397.3) rotate(-45)">PWY−5899</text>
<text transform="translate(720.18 1397.3) rotate(-45)">PWY−7198</text>
<text transform="translate(761.18 1397.3) rotate(-45)">PWY0−1241</text>
<text transform="translate(802.4 1397.3) rotate(-45)">PWY66−367</text>
<text transform="translate(843.97 1397.3) rotate(-45)">PWY−7315</text>
<text transform="translate(883.57 1397.3) rotate(-45)">PWY−2941</text>
<text transform="translate(926.61 1397.3) rotate(-45)">PWY−7187</text>
<text transform="translate(969.86 1397.3) rotate(-45)">PWY66−398</text>
<text transform="translate(1009.4 1397.3) rotate(-45)">PWY−6545</text>
<text transform="translate(1050.75 1397.3) rotate(-45)">PWY−6609</text>
<text transform="translate(1089.94 1397.3) rotate(-45)">PWY−3841</text>
<text transform="translate(1133.47 1397.3) rotate(-45)">PWY−5686</text>
<text transform="translate(1174.89 1397.3) rotate(-45)">PWY−5659</text>
<text transform="translate(1218.28 1397.3) rotate(-45)">PEPTIDOGLYCANSYN−PWY</text>
<text transform="translate(1256.84 1397.3) rotate(-45)">PWY0−166</text>
<text transform="translate(1299.04 1397.3) rotate(-45)">PWY−6387</text>
<text transform="translate(1340.32 1397.3) rotate(-45)">PWY−6386</text>
<text transform="translate(1382.03 1397.3) rotate(-45)">PWY−6163</text>
<text transform="translate(1422.97 1397.3) rotate(-45)">PWY−6385</text>
<text transform="translate(1462.43 1397.3) rotate(-45)">ARO−PWY</text>
<text transform="translate(1505.61 1397.3) rotate(-45)">PWY−6897</text>
<text transform="translate(1546.9 1397.3) rotate(-45)">PWY−7357</text>
<text transform="translate(1587.9 1397.3) rotate(-45)">PWY−7046</text>
<text transform="translate(1629.96 1397.3) rotate(-45)">RUMP−PWY</text>
<text transform="translate(1671.95 1397.3) rotate(-45)">ALLANTOINDEG−PWY</text>
<text transform="translate(1713.72 1397.3) rotate(-45)">PWY0−1298</text>
<text transform="translate(1753.54 1397.3) rotate(-45)">PWY−5136</text>
<text transform="translate(1795.46 1397.3) rotate(-45)">FUCCAT−PWY</text>
<text transform="translate(1833.67 1397.3) rotate(-45)">FAO−PWY</text>
<text transform="translate(1877.68 1397.3) rotate(-45)">P108−PWY</text>
<text transform="translate(1920.23 1397.3) rotate(-45)">FUC−RHAMCAT−PWY</text>
</g>
<g font-family='"Liberation Sans", Arial, Helvetica, sans-serif' font-size="33" fill="#000">
<text x="1.7" y="29.3">(<tspan font-style="italic">a</tspan>)</text>
<text x="1.7" y="817.5">(<tspan font-style="italic">b</tspan>)</text>
</g>
<g font-family='"Liberation Sans", Arial, Helvetica, sans-serif' font-size="23.1" fill="#000">
<text x="1939.6" y="91">-Log10 (q)</text>
<text x="2016" y="130.1">0.3</text>
<text x="2016" y="171.7">0.6</text>
<text x="2016" y="221">0.9</text>
<text x="1968" y="282.6">Type</text>
<text x="2033.1" y="334.4">N</text>
<text x="2033.1" y="385.6">P</text>
</g>
<g fill="#4bad8b" fill-opacity="0.9" stroke="none">
<circle cx="1991.2" cy="118.8" r="15.95"/>
<circle cx="1991.2" cy="160.4" r="19.3"/>
<circle cx="1991.2" cy="209.7" r="21.85"/>
<circle cx="1993.9" cy="377.1" r="18"/>
</g>
<g fill="none" stroke="#4bad8b" stroke-opacity="0.8" stroke-width="1.6">
<circle cx="1991.2" cy="118.8" r="15.15"/>
<circle cx="1991.2" cy="160.4" r="18.5"/>
<circle cx="1991.2" cy="209.7" r="21.05"/>
<circle cx="1993.9" cy="377.1" r="17.2"/>
</g>
<circle cx="1993.9" cy="325.7" r="17.7" fill="none" stroke="#4bad8b" stroke-width="2.4"/>
<g font-family='"Liberation Sans", Arial, Helvetica, sans-serif' font-size="23.1" fill="#000">
<text x="1933.9" y="945.1">-Log10 (q)</text>
<text x="2010.7" y="993.4">0.5</text>
<text x="2010.7" y="1034.9">1.0</text>
<text x="2010.7" y="1084.8">1.5</text>
<text x="1961.9" y="1147.2">Type</text>
<text x="2026.9" y="1198.7">N</text>
<text x="2026.9" y="1250.3">P</text>
</g>
<g fill="#4bad8b" fill-opacity="0.9" stroke="none">
<circle cx="1985.7" cy="982" r="16.05"/>
<circle cx="1985.7" cy="1023.7" r="19.5"/>
<circle cx="1985.7" cy="1073.1" r="21.95"/>
<circle cx="1987.5" cy="1241.6" r="17.95"/>
</g>
<g fill="none" stroke="#4bad8b" stroke-opacity="0.8" stroke-width="1.6">
<circle cx="1985.7" cy="982" r="15.25"/>
<circle cx="1985.7" cy="1023.7" r="18.7"/>
<circle cx="1985.7" cy="1073.1" r="21.15"/>
<circle cx="1987.5" cy="1241.6" r="17.15"/>
</g>
<circle cx="1987.5" cy="1190" r="17.8" fill="none" stroke="#4bad8b" stroke-width="2.4"/>
</svg></body></html>
